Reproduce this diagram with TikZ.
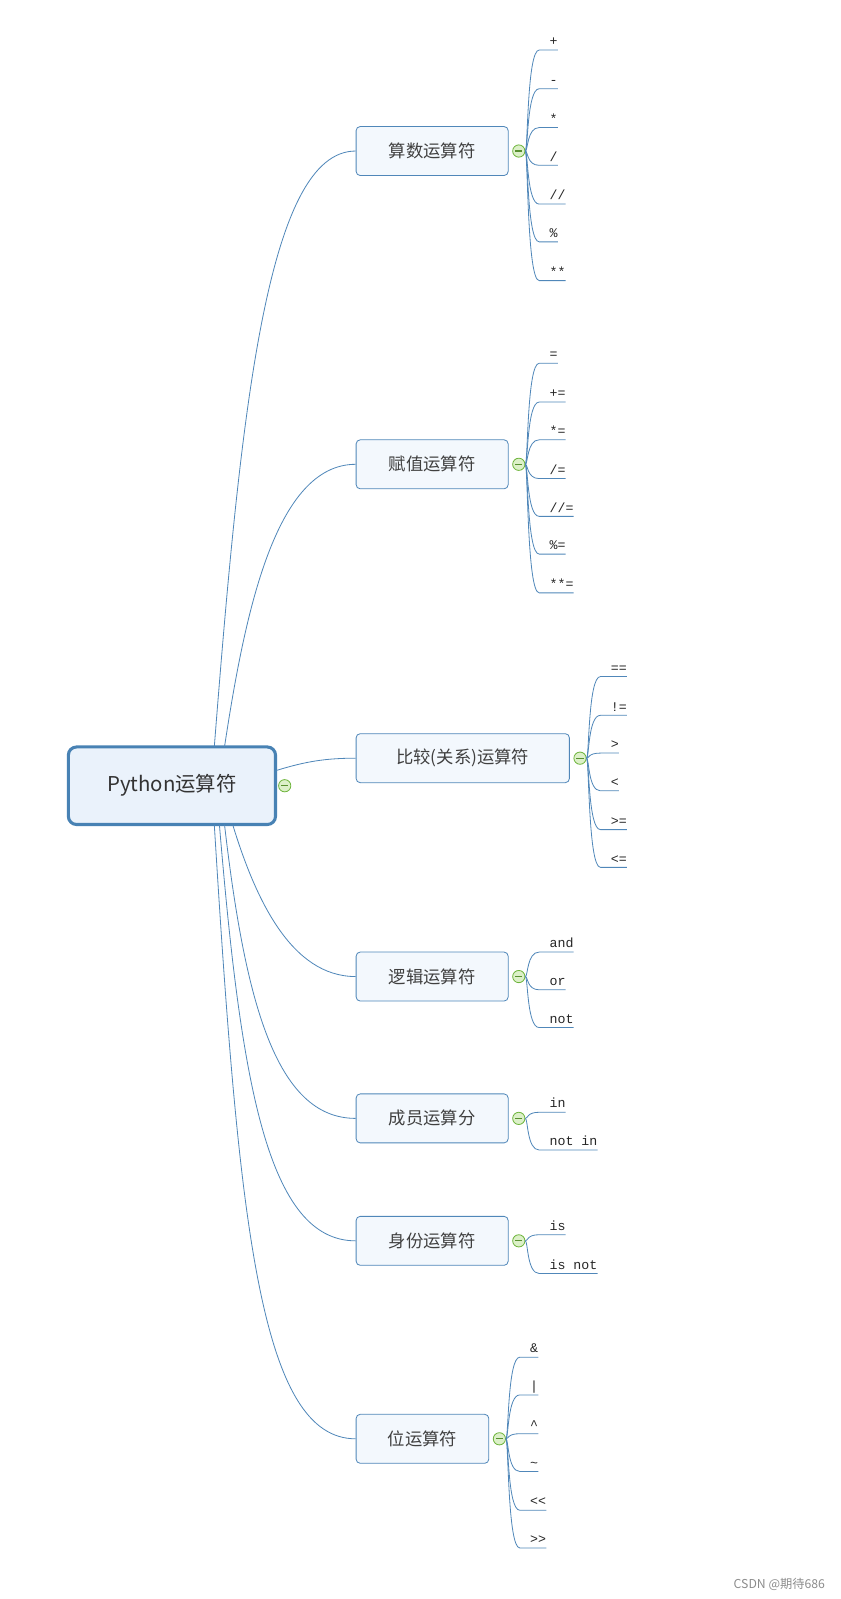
\documentclass[tikz,border=0pt]{standalone}
\usepackage{fontspec}
\setmainfont{Noto Sans CJK SC}
\newfontfamily\mono{Liberation Mono}
\begin{document}
\begin{tikzpicture}[x=1pt,y=-1pt,
  ln/.style={draw=lineblue,line width=0.8pt},
  root/.style={draw=rootblue,line width=3pt,fill=rootfill,rounded corners=8pt,minimum width=203pt,minimum height=76pt,font=\fontsize{20}{24}\selectfont,text=black!80},
  br/.style={draw=lineblue,line width=0.8pt,fill=boxfill,rounded corners=4pt,minimum height=48pt,font=\fontsize{17}{20}\selectfont,text=black!75},
  tog/.style={circle,draw=toggreen,fill=togfill,line width=0.8pt,minimum size=12pt,inner sep=0pt,
    path picture={\draw[toggreen!80!black,line width=1.2pt] ([xshift=-3.5pt]path picture bounding box.center)--([xshift=3.5pt]path picture bounding box.center);}},
  lf/.style={anchor=south west,inner xsep=0pt,inner ysep=4pt,text depth=0pt,font=\mono\fontsize{13}{15}\selectfont,text=black!85}
]
\definecolor{lineblue}{RGB}{80,135,185}
\definecolor{rootblue}{RGB}{72,130,180}
\definecolor{rootfill}{RGB}{234,242,251}
\definecolor{boxfill}{RGB}{243,248,253}
\definecolor{toggreen}{RGB}{110,180,60}
\definecolor{togfill}{RGB}{220,240,200}
\useasboundingbox (0,0) rectangle (824,1567);

\newcommand\myleaf[4]{% toggle, name, underline y, text
  \path (#1) ++(20,0) coordinate (tmp);
  \node[lf] (#2) at (tmp |- 0,#3) {\hspace{10pt}#4\hspace{4pt}};
  \draw[ln] (#1) .. controls +(9,0) and +(-12,0) .. (#2.south west) -- (#2.south east);
}

\node[root] (R) at (168.5,770) {Python运算符};
\node[tog] (RT) at (279,770) {};

\node[br,minimum width=149pt] (A) at (423.5,148) {算数运算符};
\node[br,minimum width=149pt] (B) at (423.5,455) {赋值运算符};
\node[br,minimum width=209pt] (C) at (453.5,743) {比较(关系)运算符};
\node[br,minimum width=149pt] (D) at (423.5,957) {逻辑运算符};
\node[br,minimum width=149pt] (E) at (423.5,1096) {成员运算分};
\node[br,minimum width=149pt] (F) at (423.5,1216) {身份运算符};
\node[br,minimum width=130pt] (G) at (414,1410) {位运算符};

\coordinate (s1) at (210,732); \coordinate (s2) at (220,732);
\coordinate (s3) at (271,755);
\coordinate (s4) at (228,808); \coordinate (s5) at (220,808);
\coordinate (s6) at (215,808); \coordinate (s7) at (210,808);
\draw[ln] (s1) .. controls (236,400) and (262,148) .. (A.west);
\draw[ln] (s2) .. controls (240,600) and (270,455) .. (B.west);
\draw[ln] (s3) .. controls (300,746) and (320,743) .. (C.west);
\draw[ln] (s4) .. controls (250,880) and (285,957) .. (D.west);
\draw[ln] (s5) .. controls (240,980) and (270,1096) .. (E.west);
\draw[ln] (s6) .. controls (236,1060) and (262,1216) .. (F.west);
\draw[ln] (s7) .. controls (234,1200) and (255,1410) .. (G.west);

\node[tog] (AT) at ([xshift=10pt]A.east) {};
\node[tog] (BT) at ([xshift=10pt]B.east) {};
\node[tog] (CT) at ([xshift=10pt]C.east) {};
\node[tog] (DT) at ([xshift=10pt]D.east) {};
\node[tog] (ET) at ([xshift=10pt]E.east) {};
\node[tog] (FT) at ([xshift=10pt]F.east) {};
\node[tog] (GT) at ([xshift=10pt]G.east) {};

\myleaf{AT}{a1}{49}{+}
\myleaf{AT}{a2}{87}{-}
\myleaf{AT}{a3}{125}{*}
\myleaf{AT}{a4}{162}{/}
\myleaf{AT}{a5}{200}{//}
\myleaf{AT}{a6}{237}{\%}
\myleaf{AT}{a7}{275}{**}

\myleaf{BT}{b1}{356}{=}
\myleaf{BT}{b2}{394}{+=}
\myleaf{BT}{b3}{431}{*=}
\myleaf{BT}{b4}{469}{/=}
\myleaf{BT}{b5}{506}{//=}
\myleaf{BT}{b6}{543}{\%=}
\myleaf{BT}{b7}{581}{**=}

\myleaf{CT}{c1}{663}{==}
\myleaf{CT}{c2}{701}{!=}
\myleaf{CT}{c3}{738}{>}
\myleaf{CT}{c4}{775}{<}
\myleaf{CT}{c5}{813}{>=}
\myleaf{CT}{c6}{850}{<=}

\myleaf{DT}{d1}{933}{and}
\myleaf{DT}{d2}{970}{or}
\myleaf{DT}{d3}{1007}{not}

\myleaf{ET}{e1}{1090}{in}
\myleaf{ET}{e2}{1127}{not in}

\myleaf{FT}{f1}{1210}{is}
\myleaf{FT}{f2}{1248}{is not}

\myleaf{GT}{g1}{1330}{\&}
\myleaf{GT}{g2}{1367}{|}
\myleaf{GT}{g3}{1405}{\^{}}
\myleaf{GT}{g4}{1442}{\textasciitilde}
\myleaf{GT}{g5}{1480}{<<}
\myleaf{GT}{g6}{1517}{>>}

\node[anchor=south east,font=\fontsize{12}{14}\selectfont,text=black!45] (W) at (812,1562) {CSDN @期待686};
\end{tikzpicture}
\end{document}
